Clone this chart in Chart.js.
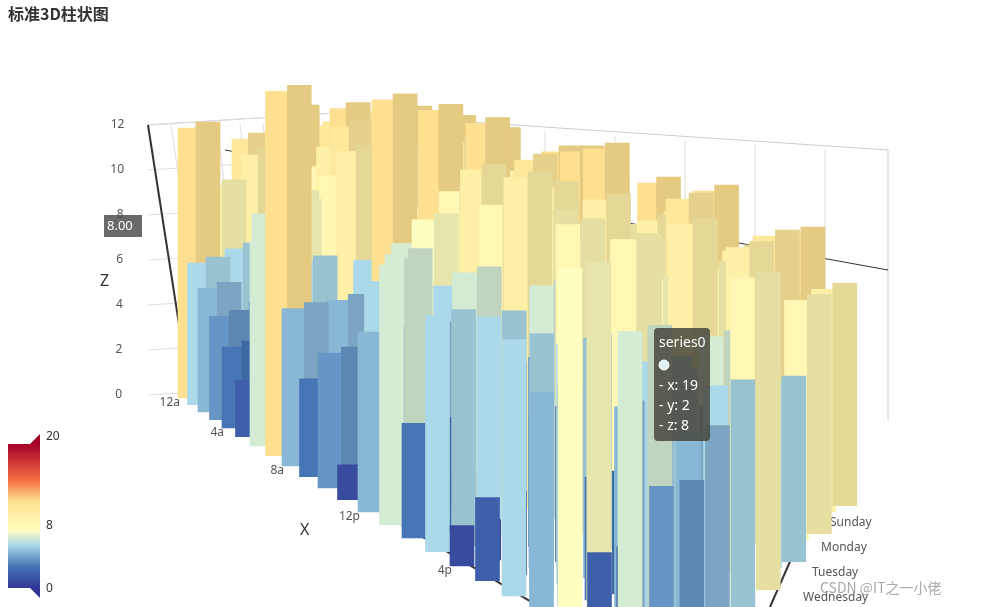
<!DOCTYPE html>
<html><head><meta charset="utf-8">
<script src="https://cdn.jsdelivr.net/npm/chart.js@4"></script>
<style>body{margin:0;background:#fff}#wrap{width:1003px;height:607px;position:relative}</style>
</head><body><div id="wrap"><canvas id="c"></canvas></div>
<script>
const hours = ['12a','1a','2a','3a','4a','5a','6a','7a','8a','9a','10a','11a','12p','1p','2p','3p','4p','5p','6p','7p','8p','9p','10p','11p'];
const days = ['Saturday','Friday','Thursday','Wednesday','Tuesday','Monday','Sunday'];
const zTicks = [0,2,4,6,8,10,12];
const vals = [
  [12,6,5,4,3,2,7,12,5,3,4,1,5,7,3,6,1,2,6,5,8,2,7,4],
  [9,5,6,3,4,7,8,6,4,5,2,6,7,5,1,7,6,5,4,6,3,5,6,5],
  [11,10,7,6,5,8,7,9,10,6,12,7,8,6,5,9,10,7,9,6,9,6,5,6],
  [8,7,12,6,9,10,11,9,7,10,8,12,9,10,6,7,9,8,10,9,8,10,7,9],
  [10,9,8,11,12,9,10,8,12,10,9,11,12,8,9,10,8,12,7,9,11,9,10,6],
  [8,11,9,10,8,12,9,11,9,12,10,9,8,11,10,12,11,9,10,8,12,10,11,9],
  [9,10,11,8,10,9,12,10,11,9,12,10,9,12,11,10,9,12,11,10,9,11,12,10]
];
const W = 1003, H = 607;
function proj(h, d) {
  return { x: 190 + 9 * h + 0.5 * h * h + 27 * d, y: 398 + 6.5 * h + 0.25 * h * h - 28 * d,
           s: 22.5 * (1 + 0.05 * h) * (1 - 0.09 * d), w: (1 + 0.03 * h) * (1 - 0.05 * d) };
}
const stops = [[0,[49,54,149]],[3,[69,117,180]],[6,[171,217,233]],[8,[255,255,191]],[12,[254,224,144]],[15,[244,109,67]],[20,[165,0,38]]];
function colorOf(v, k) {
  let i = 0; while (i < stops.length - 2 && v > stops[i + 1][0]) i++;
  const [a, ca] = stops[i], [b, cb] = stops[i + 1], t = Math.min(1, Math.max(0, (v - a) / (b - a)));
  const c = ca.map((x, j) => Math.round((x + (cb[j] - x) * t) * k));
  return `rgb(${c[0]},${c[1]},${c[2]})`;
}
const cells = [];
days.forEach((d, di) => hours.forEach((h, hi) => cells.push({ h: hi, d: di, v: vals[di][hi] })));
cells.sort((a, b) => (a.h - a.d) - (b.h - b.d) || b.d - a.d);
const pts = [];
cells.forEach(c => {
  const p = proj(c.h, c.d), top = p.y - Math.max(c.v, 0.3) * p.s;
  pts.push({ x: p.x, y: [p.y, top], c: colorOf(c.v, 1) });
  pts.push({ x: p.x + 18 * p.w, y: [p.y - 6, top - 6], c: colorOf(c.v, 0.9) });
});
const deco = {
  id: 'deco',
  beforeDatasetsDraw(chart) {
    const g = chart.ctx, X = chart.scales.x, Y = chart.scales.y;
    const P = (x, y) => [X.getPixelForValue(x), Y.getPixelForValue(y)];
    g.save();
    const line = (a, b, col, w) => { g.strokeStyle = col; g.lineWidth = w; g.beginPath(); g.moveTo(...P(a[0], a[1])); g.lineTo(...P(b[0], b[1])); g.stroke(); };
    line([148,125],[335,113],'#ccc',1); line([335,113],[888,150],'#ccc',1);
    line([335,113],[335,383],'#ccc',1); line([888,150],[888,420],'#ccc',1);
    for (let i = 1; i < 8; i++) line([148 + i * 23, 124], [190 + i * 20, 395], '#ddd', 1);
    for (let i = 1; i < 8; i++) line([335 + i * 70, 118 + i * 4.5], [335 + i * 70, 390 + i * 14], '#ddd', 1);
    zTicks.forEach(z => line([148, 395 - z * 22.5], [335, 383 - z * 22.5], '#ddd', 1));
    line([225,150],[888,270],'#333',1); line([380,240],[620,285],'#333',1);
    line([148,125],[190,395],'#333',2);
    const a0 = proj(0, 0), a1 = proj(23, 0);
    line([a0.x, a0.y], [a1.x, a1.y], '#333', 2);
    line([770,607],[815,505],'#333',2);
    g.fillStyle = '#555'; g.font = '12px "Noto Sans", sans-serif'; g.textAlign = 'right'; g.textBaseline = 'middle';
    zTicks.forEach(z => g.fillText(z, ...P(122 + z * 0.2, 397 - z * 22.5 - 2)));
    hours.forEach((h, i) => { if (i % 4 === 0) { const p = proj(i, 0); g.fillText(h, ...P(p.x - 10, p.y + 5)); } });
    g.textAlign = 'left';
    days.forEach((d, i) => g.fillText(d, ...P(830 - (6 - i) * 9, 523 + (6 - i) * 25)));
    g.font = '16px "Noto Sans", sans-serif'; g.fillStyle = '#333';
    g.fillText('Z', ...P(100, 281)); g.fillText('X', ...P(300, 530));
    g.restore();
  },
  afterDatasetsDraw(chart) {
    const g = chart.ctx;
    g.save();
    g.fillStyle = 'rgba(80,80,80,0.85)'; g.fillRect(104, 215, 38, 22);
    g.fillStyle = '#fff'; g.font = '13px "Noto Sans", sans-serif'; g.textBaseline = 'middle'; g.fillText('8.00', 107, 226);
    g.fillStyle = 'rgba(70,70,60,0.85)'; g.beginPath(); g.roundRect(654, 328, 56, 113, 4); g.fill();
    g.fillStyle = '#fff'; g.font = '14px "Noto Sans", sans-serif';
    g.fillText('series0', 659, 343);
    g.fillStyle = '#e0f3f8'; g.beginPath(); g.arc(664, 365, 5, 0, 7); g.fill(); g.strokeStyle = '#fff'; g.stroke();
    g.fillStyle = '#fff';
    ['- x: 19', '- y: 2', '- z: 8'].forEach((t, i) => g.fillText(t, 659, 386 + i * 20));
    const gr = g.createLinearGradient(0, 588, 0, 444);
    stops.forEach(s => gr.addColorStop(s[0] / 20, colorOf(s[0], 1)));
    g.fillStyle = gr; g.fillRect(8, 444, 32, 144);
    g.fillStyle = '#a50026'; g.beginPath(); g.moveTo(30, 444); g.lineTo(40, 434); g.lineTo(40, 444); g.fill();
    g.fillStyle = '#313695'; g.beginPath(); g.moveTo(30, 588); g.lineTo(40, 598); g.lineTo(40, 588); g.fill();
    g.fillStyle = '#333'; g.font = '12px "Noto Sans", sans-serif';
    g.fillText('20', 46, 437); g.fillText('8', 46, 526); g.fillText('0', 46, 589);
    g.font = 'bold 16px "Noto Sans CJK SC", sans-serif'; g.fillText('标准3D柱状图', 8, 14);
    g.fillStyle = '#aaa'; g.font = '14px "Noto Sans CJK SC", sans-serif'; g.fillText('CSDN @IT之一小佬', 820, 588);
    g.restore();
  }
};
new Chart(document.getElementById('c'), {
  type: 'bar',
  data: { datasets: [{ data: pts, barThickness: 24, backgroundColor: ctx => ctx.raw ? ctx.raw.c : '#ccc', borderWidth: 0 }] },
  options: {
    responsive: true, maintainAspectRatio: false, animation: false,
    layout: { padding: 0 },
    plugins: { legend: { display: false }, tooltip: { enabled: false } },
    scales: {
      x: { type: 'linear', min: 0, max: W, offset: false, display: false },
      y: { type: 'linear', min: 0, max: H, reverse: true, display: false }
    }
  },
  plugins: [deco]
});
</script></body></html>
